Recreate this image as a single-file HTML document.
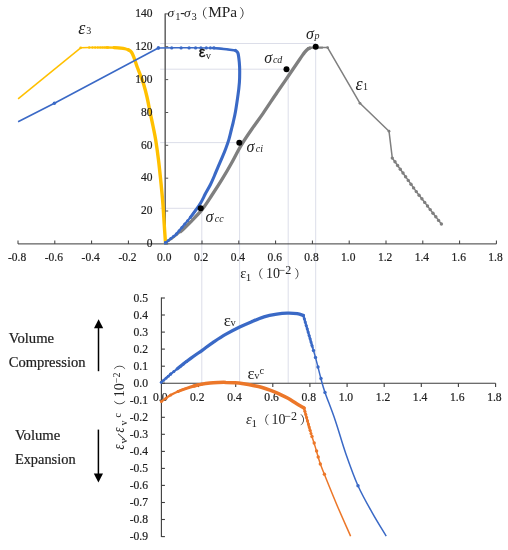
<!DOCTYPE html>
<html lang="en"><head><meta charset="utf-8"><title>Stress-strain curves</title>
<style>html,body{margin:0;padding:0;background:#fff}svg{display:block}text{font-family:"Liberation Serif","Noto Serif CJK SC",serif;fill:#222}</style></head><body>
<svg width="508" height="550" viewBox="0 0 508 550">
<rect width="508" height="550" fill="#fff"/>
<g stroke="#D8DAE6" stroke-width="0.9" fill="none">
<path d="M160.2,43.5H315.7"/>
<path d="M160.2,69.2H288.2"/>
<path d="M160.2,142.6H239.6"/>
<path d="M160.2,208.3H201.8"/>
<path d="M201.8,208.3V383"/>
<path d="M239.6,142.6V383"/>
<path d="M288.2,69.2V383"/>
<path d="M315.7,43.5V383"/>
</g>
<g stroke="#3a3a3a" stroke-width="1" fill="none">
<path d="M18.0,243.9H496.4"/>
<path d="M18.0,243.9v-3.4"/>
<path d="M54.8,243.9v-3.4"/>
<path d="M91.6,243.9v-3.4"/>
<path d="M128.4,243.9v-3.4"/>
<path d="M165.2,243.9v-3.4"/>
<path d="M202.0,243.9v-3.4"/>
<path d="M238.8,243.9v-3.4"/>
<path d="M275.6,243.9v-3.4"/>
<path d="M312.4,243.9v-3.4"/>
<path d="M349.2,243.9v-3.4"/>
<path d="M386.0,243.9v-3.4"/>
<path d="M422.8,243.9v-3.4"/>
<path d="M459.6,243.9v-3.4"/>
<path d="M496.4,243.9v-3.4"/>
</g>
<path d="M165.2,13.4V244.4" stroke="#6b6b6b" stroke-width="1.6" fill="none"/>
<g stroke="#555" stroke-width="1" fill="none">
<path d="M165.2,243.9h3"/>
<path d="M165.2,211.0h3"/>
<path d="M165.2,178.2h3"/>
<path d="M165.2,145.3h3"/>
<path d="M165.2,112.5h3"/>
<path d="M165.2,79.6h3"/>
<path d="M165.2,46.7h3"/>
<path d="M165.2,13.9h3"/>
</g>
<path d="M165.4,243.0C166.5,242.3 169.4,240.7 172.0,238.8C174.6,236.9 177.6,234.4 180.7,231.6C183.8,228.8 186.9,225.7 190.5,222.0" stroke="#7F7F7F" stroke-width="1.8" fill="none" stroke-linecap="round" stroke-linejoin="round"/>
<path d="M180.7,231.6C183.8,228.8 186.9,225.7 190.5,222.0C194.1,218.3 198.4,214.1 202.0,209.6C205.6,205.1 208.6,200.1 212.0,195.0C215.4,189.9 219.1,184.2 222.3,178.9C225.5,173.7 228.2,169.1 231.3,163.5C234.4,157.9 237.6,151.3 241.0,145.6C244.4,139.9 247.9,134.8 251.6,129.5C255.2,124.2 258.6,119.8 262.9,113.6C267.2,107.4 272.9,98.6 277.2,92.3C281.5,86.0 284.9,81.1 288.7,75.5C292.5,69.9 297.5,62.6 300.1,58.7C302.8,54.9 303.4,53.9 304.6,52.4C305.8,50.9 306.3,50.3 307.2,49.6C308.1,48.9 309.4,48.4 309.8,48.1" stroke="#7F7F7F" stroke-width="3.3" fill="none" stroke-linecap="round" stroke-linejoin="round"/>
<path d="M308,48.3L312,47.6H322" stroke="#7F7F7F" stroke-width="2.4" fill="none" stroke-linecap="round"/>
<polyline points="322.0,47.5 327.6,47.6 360.0,103.3 389.0,131.2 392.3,158.1" stroke="#7F7F7F" stroke-width="1.5" fill="none" stroke-linejoin="round"/>
<circle cx="327.6" cy="47.6" r="1.4" fill="#7F7F7F"/><circle cx="360.0" cy="103.3" r="1.4" fill="#7F7F7F"/><circle cx="389.0" cy="131.2" r="1.4" fill="#7F7F7F"/>
<polyline points="392.3,158.1 395.0,161.8 397.6,165.5 400.3,169.3 403.0,173.0 405.6,176.7 408.3,180.4 411.0,184.2 413.6,187.9 416.3,191.6 419.1,195.2 421.9,198.8 424.7,202.4 427.5,206.0 430.2,209.6 433.0,213.2 435.8,216.8 438.6,220.4 441.4,224.0" stroke="#7F7F7F" stroke-width="1.5" fill="none"/>
<circle cx="392.3" cy="158.1" r="1.7" fill="#7F7F7F"/><circle cx="395.0" cy="161.8" r="1.7" fill="#7F7F7F"/><circle cx="397.6" cy="165.5" r="1.7" fill="#7F7F7F"/><circle cx="400.3" cy="169.3" r="1.7" fill="#7F7F7F"/><circle cx="403.0" cy="173.0" r="1.7" fill="#7F7F7F"/><circle cx="405.6" cy="176.7" r="1.7" fill="#7F7F7F"/><circle cx="408.3" cy="180.4" r="1.7" fill="#7F7F7F"/><circle cx="411.0" cy="184.2" r="1.7" fill="#7F7F7F"/><circle cx="413.6" cy="187.9" r="1.7" fill="#7F7F7F"/><circle cx="416.3" cy="191.6" r="1.7" fill="#7F7F7F"/><circle cx="419.1" cy="195.2" r="1.7" fill="#7F7F7F"/><circle cx="421.9" cy="198.8" r="1.7" fill="#7F7F7F"/><circle cx="424.7" cy="202.4" r="1.7" fill="#7F7F7F"/><circle cx="427.5" cy="206.0" r="1.7" fill="#7F7F7F"/><circle cx="430.2" cy="209.6" r="1.7" fill="#7F7F7F"/><circle cx="433.0" cy="213.2" r="1.7" fill="#7F7F7F"/><circle cx="435.8" cy="216.8" r="1.7" fill="#7F7F7F"/><circle cx="438.6" cy="220.4" r="1.7" fill="#7F7F7F"/><circle cx="441.4" cy="224.0" r="1.7" fill="#7F7F7F"/>
<polyline points="18.1,98.8 80.7,47.8" stroke="#FFC000" stroke-width="1.5" fill="none"/>
<path d="M80.7,47.8L89.3,47.5H108" stroke="#FFC000" stroke-width="1.5" fill="none"/>
<circle cx="80.7" cy="47.8" r="1.35" fill="#FFC000"/><circle cx="89.3" cy="47.5" r="1.35" fill="#FFC000"/><circle cx="92.5" cy="47.5" r="1.35" fill="#FFC000"/><circle cx="95.2" cy="47.5" r="1.35" fill="#FFC000"/><circle cx="97.8" cy="47.5" r="1.35" fill="#FFC000"/><circle cx="100.2" cy="47.5" r="1.35" fill="#FFC000"/><circle cx="102.3" cy="47.5" r="1.35" fill="#FFC000"/><circle cx="104.3" cy="47.5" r="1.35" fill="#FFC000"/><circle cx="106.1" cy="47.5" r="1.35" fill="#FFC000"/><circle cx="107.8" cy="47.5" r="1.35" fill="#FFC000"/>
<path d="M107.0,47.5C108.2,47.5 111.7,47.5 114.0,47.6C116.3,47.7 119.2,47.9 121.0,48.1" stroke="#FFC000" stroke-width="2.3" fill="none" stroke-linecap="round"/>
<path d="M114.0,47.6C116.3,47.7 119.2,47.9 121.0,48.1C122.8,48.3 123.8,48.5 125.0,48.8C126.2,49.1 127.9,49.7 128.5,49.9" stroke="#FFC000" stroke-width="3.1" fill="none" stroke-linecap="round"/>
<path d="M128.5,49.9C129.0,50.3 130.7,51.0 131.7,52.4C132.7,53.8 133.4,56.1 134.3,58.5C135.2,60.9 136.1,64.0 137.1,66.8C138.1,69.5 139.2,72.1 140.3,75.0C141.4,77.9 142.5,80.4 143.6,84.1C144.7,87.8 145.9,92.3 147.0,97.0C148.1,101.7 149.1,107.5 150.1,112.3C151.1,117.1 152.1,121.4 153.0,126.0C153.9,130.6 154.8,134.3 155.7,140.0C156.6,145.7 157.6,152.7 158.5,160.0C159.4,167.3 160.3,176.5 161.1,184.0C161.8,191.5 162.5,198.3 163.0,205.0C163.5,211.7 163.8,217.7 164.2,224.0C164.6,230.3 165.3,239.8 165.5,243.0" stroke="#FFC000" stroke-width="3.4" fill="none" stroke-linecap="round"/>
<polyline points="18.1,121.7 54.4,103.2 158.3,48.0" stroke="#3A69C6" stroke-width="1.6" fill="none"/>
<circle cx="54.4" cy="103.2" r="1.7" fill="#3A69C6"/><circle cx="158.3" cy="48.0" r="1.7" fill="#3A69C6"/>
<path d="M158.3,48.0C163.6,48.0 180.6,47.7 190.0,47.7C199.4,47.7 208.9,47.8 215.0,48.0C221.1,48.2 223.0,48.8 226.4,49.2C229.8,49.6 234.0,50.3 235.5,50.5" stroke="#3A69C6" stroke-width="1.4" fill="none"/>
<circle cx="158.5" cy="47.9" r="1.6" fill="#3A69C6"/><circle cx="171.7" cy="47.9" r="1.6" fill="#3A69C6"/><circle cx="181.1" cy="47.9" r="1.6" fill="#3A69C6"/><circle cx="189.1" cy="47.9" r="1.6" fill="#3A69C6"/><circle cx="195.6" cy="47.9" r="1.6" fill="#3A69C6"/><circle cx="200.9" cy="47.9" r="1.6" fill="#3A69C6"/><circle cx="206.3" cy="47.9" r="1.6" fill="#3A69C6"/><circle cx="210.4" cy="47.9" r="1.6" fill="#3A69C6"/><circle cx="214.0" cy="47.9" r="1.6" fill="#3A69C6"/>
<path d="M213,48L226.4,49.2L235.5,50.5" stroke="#3A69C6" stroke-width="2.4" fill="none" stroke-linecap="round" stroke-linejoin="round"/>
<path d="M235.5,50.5C235.9,51.0 237.4,51.2 238.0,53.2C238.6,55.2 239.0,59.3 239.3,62.3C239.6,65.3 239.7,68.1 239.7,71.4C239.7,74.7 239.7,78.4 239.4,82.3C239.1,86.2 238.7,90.2 238.0,95.0C237.3,99.8 236.3,106.9 235.5,111.4C234.7,116.0 233.9,119.2 233.2,122.3C232.5,125.4 232.0,127.2 231.3,130.0C230.6,132.8 229.9,136.1 229.0,139.1C228.1,142.1 227.0,145.2 225.9,148.2C224.8,151.2 223.5,154.3 222.2,157.3C220.9,160.3 219.6,163.4 218.3,166.4C217.0,169.4 215.8,172.5 214.5,175.5C213.2,178.5 212.0,181.5 210.5,184.5C209.0,187.5 207.1,190.6 205.5,193.6C203.9,196.6 202.4,200.0 200.8,202.7C199.2,205.4 197.7,207.4 196.0,209.8C194.3,212.2 192.5,214.8 190.4,217.4" stroke="#3A69C6" stroke-width="3.1" fill="none" stroke-linecap="round"/>
<path d="M196.0,209.8C194.3,212.2 192.5,214.8 190.4,217.4C188.3,220.1 185.7,222.9 183.3,225.7C181.0,228.5 178.4,231.8 176.3,234.0C174.2,236.2 172.3,237.1 170.5,238.6C168.7,240.1 166.4,242.1 165.6,242.8" stroke="#3A69C6" stroke-width="2.2" fill="none" stroke-linecap="round"/>
<circle cx="165.6" cy="242.8" r="1.5" fill="#3A69C6"/><circle cx="168.3" cy="240.6" r="1.5" fill="#3A69C6"/><circle cx="170.9" cy="238.4" r="1.5" fill="#3A69C6"/><circle cx="173.6" cy="236.2" r="1.5" fill="#3A69C6"/><circle cx="176.3" cy="234.0" r="1.5" fill="#3A69C6"/><circle cx="176.3" cy="234.0" r="1.5" fill="#3A69C6"/><circle cx="179.1" cy="230.7" r="1.5" fill="#3A69C6"/><circle cx="181.9" cy="227.4" r="1.5" fill="#3A69C6"/><circle cx="184.8" cy="224.0" r="1.5" fill="#3A69C6"/><circle cx="187.6" cy="220.7" r="1.5" fill="#3A69C6"/><circle cx="190.4" cy="217.4" r="1.5" fill="#3A69C6"/>
<rect x="164" y="241.3" width="3.2" height="3.2" fill="#3A69C6"/>
<circle cx="200.7" cy="208.3" r="3" fill="#000"/>
<circle cx="239.3" cy="142.8" r="3" fill="#000"/>
<circle cx="286.5" cy="69.2" r="3" fill="#000"/>
<circle cx="315.7" cy="46.8" r="3" fill="#000"/>
<g font-size="11.5" text-anchor="middle" fill="#1c1c1c" stroke="#1c1c1c" stroke-width="0.2">
<text x="17.1" y="261.3">-0.8</text>
<text x="53.9" y="261.3">-0.6</text>
<text x="90.7" y="261.3">-0.4</text>
<text x="127.5" y="261.3">-0.2</text>
<text x="164.3" y="261.3">0.0</text>
<text x="201.1" y="261.3">0.2</text>
<text x="237.9" y="261.3">0.4</text>
<text x="274.7" y="261.3">0.6</text>
<text x="311.5" y="261.3">0.8</text>
<text x="348.3" y="261.3">1.0</text>
<text x="385.1" y="261.3">1.2</text>
<text x="421.9" y="261.3">1.4</text>
<text x="458.7" y="261.3">1.6</text>
<text x="495.5" y="261.3">1.8</text>
</g>
<g font-size="11.5" text-anchor="end" fill="#1c1c1c" stroke="#1c1c1c" stroke-width="0.2">
<text x="152.6" y="247.1">0</text>
<text x="152.6" y="214.2">20</text>
<text x="152.6" y="181.4">40</text>
<text x="152.6" y="148.5">60</text>
<text x="152.6" y="115.7">80</text>
<text x="152.6" y="82.8">100</text>
<text x="152.6" y="49.9">120</text>
<text x="152.6" y="17.1">140</text>
</g>
<text y="17.3" font-size="14"><tspan x="167.5" font-style="italic" font-size="13.5">σ</tspan><tspan x="175.2" dy="3" font-size="10.5">1</tspan><tspan x="180.3" dy="-3">-</tspan><tspan x="184" font-style="italic" font-size="13.5">σ</tspan><tspan x="191.6" dy="3" font-size="10.5">3</tspan><tspan x="194.4" dy="-2" font-size="13">（</tspan><tspan x="208.2" dy="-1" textLength="29" lengthAdjust="spacingAndGlyphs">MPa</tspan><tspan x="239" dy="1" font-size="13">）</tspan></text>
<text y="33.6"><tspan x="78.3" font-style="italic" font-size="18">ε</tspan><tspan x="86.3" font-size="10">3</tspan></text>
<text y="57.4"><tspan x="198.7" font-family="Liberation Sans, sans-serif" font-size="15" fill="#111" stroke="#111" stroke-width="0.35">ε</tspan><tspan x="205.8" font-size="10.5" dy="1.2">v</tspan></text>
<text y="63.1"><tspan x="264.2" font-size="16" font-style="italic">σ</tspan><tspan x="272.9" font-size="10" font-style="italic">cd</tspan></text>
<text y="39.2"><tspan x="305.9" font-size="16" font-style="italic">σ</tspan><tspan x="314.6" font-size="10" font-style="italic">p</tspan></text>
<text y="89.8"><tspan x="355.4" font-style="italic" font-size="18">ε</tspan><tspan x="363" font-size="10">1</tspan></text>
<text y="151.8"><tspan x="246.4" font-size="16" font-style="italic">σ</tspan><tspan x="255.7" font-size="10" font-style="italic">ci</tspan></text>
<text y="221.8"><tspan x="205.5" font-size="16" font-style="italic">σ</tspan><tspan x="214.8" font-size="10" font-style="italic">cc</tspan></text>
<text y="277.8" font-size="13.5"><tspan x="240.3" font-size="14.5">ε</tspan><tspan x="245.8" dy="3.2" font-size="11">1</tspan><tspan x="251.6" dy="-2.4" font-size="12">（</tspan><tspan x="265.9" dy="-0.8" font-size="14">10</tspan><tspan x="278.6" dy="-3.4" font-size="12">−2</tspan><tspan dy="4.2" x="294.2" font-size="12">）</tspan></text>
<g stroke="#3c3c3c" stroke-width="1.1" fill="none">
<path d="M161.4,297.5V537.1"/>
<path d="M161.4,298.0h3.5"/>
<path d="M161.4,315.0h3.5"/>
<path d="M161.4,332.1h3.5"/>
<path d="M161.4,349.1h3.5"/>
<path d="M161.4,366.2h3.5"/>
<path d="M161.4,383.2h3.5"/>
<path d="M161.4,400.2h3.5"/>
<path d="M161.4,417.3h3.5"/>
<path d="M161.4,434.3h3.5"/>
<path d="M161.4,451.4h3.5"/>
<path d="M161.4,468.4h3.5"/>
<path d="M161.4,485.4h3.5"/>
<path d="M161.4,502.5h3.5"/>
<path d="M161.4,519.5h3.5"/>
<path d="M161.4,536.6h3.5"/>
<path d="M161.4,383.2H495.6"/>
<path d="M198.5,383.2v3.9"/>
<path d="M235.7,383.2v3.9"/>
<path d="M272.8,383.2v3.9"/>
<path d="M309.9,383.2v3.9"/>
<path d="M347.1,383.2v3.9"/>
<path d="M384.2,383.2v3.9"/>
<path d="M421.3,383.2v3.9"/>
<path d="M458.4,383.2v3.9"/>
<path d="M495.6,383.2v3.9"/>
</g>
<g font-size="11.6" text-anchor="middle" fill="#1c1c1c" stroke="#1c1c1c" stroke-width="0.2">
<text x="160.2" y="400.6">0.0</text>
<text x="197.3" y="400.6">0.2</text>
<text x="234.5" y="400.6">0.4</text>
<text x="271.6" y="400.6">0.6</text>
<text x="308.7" y="400.6">0.8</text>
<text x="345.9" y="400.6">1.0</text>
<text x="383.0" y="400.6">1.2</text>
<text x="420.1" y="400.6">1.4</text>
<text x="457.2" y="400.6">1.6</text>
<text x="494.4" y="400.6">1.8</text>
</g>
<g font-size="11.6" text-anchor="end" fill="#1c1c1c" stroke="#1c1c1c" stroke-width="0.2">
<text x="148" y="301.7">0.5</text>
<text x="148" y="318.7">0.4</text>
<text x="148" y="335.8">0.3</text>
<text x="148" y="352.8">0.2</text>
<text x="148" y="369.9">0.1</text>
<text x="148" y="386.9">0.0</text>
<text x="148" y="403.9">-0.1</text>
<text x="148" y="421.0">-0.2</text>
<text x="148" y="438.0">-0.3</text>
<text x="148" y="455.1">-0.4</text>
<text x="148" y="472.1">-0.5</text>
<text x="148" y="489.1">-0.6</text>
<text x="148" y="506.2">-0.7</text>
<text x="148" y="523.2">-0.8</text>
<text x="148" y="540.3">-0.9</text>
</g>
<path d="M161.4,401.6C162.2,401.0 164.4,399.3 166.0,398.2C167.6,397.1 168.7,396.1 170.7,395.0C172.7,393.9 175.4,392.6 178.0,391.5C180.6,390.4 183.8,389.2 186.5,388.3" stroke="#EC7729" stroke-width="2.2" fill="none" stroke-linecap="round"/>
<circle cx="161.4" cy="401.6" r="1.5" fill="#EC7729"/><circle cx="166.0" cy="398.2" r="1.5" fill="#EC7729"/><circle cx="170.7" cy="395.0" r="1.5" fill="#EC7729"/><circle cx="178.0" cy="391.5" r="1.5" fill="#EC7729"/>
<path d="M178.0,391.5C180.6,390.4 183.8,389.2 186.5,388.3C189.2,387.4 191.4,386.7 194.0,386.0C196.6,385.3 199.5,384.6 202.2,384.1" stroke="#EC7729" stroke-width="2.9" fill="none" stroke-linecap="round"/>
<path d="M194.0,386.0C196.6,385.3 199.5,384.6 202.2,384.1C204.9,383.6 207.4,383.3 210.0,383.0C212.6,382.7 215.3,382.6 218.0,382.5C220.7,382.4 223.2,382.3 226.0,382.4C228.8,382.4 232.1,382.6 235.0,382.8C237.9,383.0 240.8,383.4 243.6,383.8C246.4,384.2 249.1,384.6 252.0,385.2C254.9,385.8 258.3,386.4 261.3,387.2C264.3,388.0 267.1,389.0 270.0,390.1C272.9,391.2 276.0,392.4 279.0,393.8C282.0,395.2 285.1,396.7 288.0,398.3C290.9,399.9 294.0,402.1 296.7,403.7C299.4,405.3 302.8,407.3 304.0,408.0" stroke="#EC7729" stroke-width="3.5" fill="none" stroke-linecap="round"/>
<path d="M304.0,408.0C304.8,411.1 307.0,420.0 308.9,426.4C310.8,432.8 313.3,440.5 315.1,446.4C316.9,452.3 318.1,457.2 319.7,461.9C321.2,466.5 321.3,466.6 324.4,474.3C327.5,482.0 333.9,497.9 338.3,508.2C342.7,518.5 348.6,531.5 350.6,536.2" stroke="#EC7729" stroke-width="1.5" fill="none"/>
<path d="M304,408L308.9,426.4L310.5,431.5" stroke="#EC7729" stroke-width="2.3" fill="none" stroke-linecap="round"/>
<circle cx="304.0" cy="408.0" r="1.5" fill="#EC7729"/><circle cx="304.9" cy="411.2" r="1.5" fill="#EC7729"/><circle cx="305.8" cy="414.4" r="1.5" fill="#EC7729"/><circle cx="306.6" cy="417.6" r="1.5" fill="#EC7729"/><circle cx="307.5" cy="420.8" r="1.5" fill="#EC7729"/><circle cx="308.4" cy="423.9" r="1.5" fill="#EC7729"/><circle cx="309.2" cy="427.1" r="1.5" fill="#EC7729"/><circle cx="310.1" cy="430.3" r="1.5" fill="#EC7729"/><circle cx="311.0" cy="433.5" r="1.5" fill="#EC7729"/>
<circle cx="312.0" cy="436.5" r="1.7" fill="#EC7729"/><circle cx="314.2" cy="443.0" r="1.7" fill="#EC7729"/><circle cx="316.6" cy="451.0" r="1.7" fill="#EC7729"/><circle cx="318.2" cy="457.0" r="1.7" fill="#EC7729"/><circle cx="320.3" cy="464.0" r="1.7" fill="#EC7729"/><circle cx="324.4" cy="474.3" r="1.7" fill="#EC7729"/>
<path d="M161.3,382.3C162.1,381.6 164.4,379.4 166.0,378.0C167.6,376.6 168.7,375.7 170.7,374.1C172.7,372.5 175.4,370.3 178.0,368.2C180.6,366.1 183.8,363.5 186.5,361.5" stroke="#3A69C6" stroke-width="2.1" fill="none" stroke-linecap="round"/>
<circle cx="161.3" cy="382.3" r="1.5" fill="#3A69C6"/><circle cx="163.7" cy="380.2" r="1.5" fill="#3A69C6"/><circle cx="166.0" cy="378.2" r="1.5" fill="#3A69C6"/><circle cx="168.3" cy="376.2" r="1.5" fill="#3A69C6"/><circle cx="170.7" cy="374.1" r="1.5" fill="#3A69C6"/><circle cx="170.7" cy="374.1" r="1.5" fill="#3A69C6"/><circle cx="173.9" cy="371.6" r="1.5" fill="#3A69C6"/><circle cx="177.0" cy="369.1" r="1.5" fill="#3A69C6"/><circle cx="180.2" cy="366.5" r="1.5" fill="#3A69C6"/><circle cx="183.3" cy="364.0" r="1.5" fill="#3A69C6"/><circle cx="186.5" cy="361.5" r="1.5" fill="#3A69C6"/>
<path d="M178.0,368.2C180.6,366.1 183.8,363.5 186.5,361.5C189.2,359.5 191.4,357.9 194.0,356.0C196.6,354.1 199.1,352.5 202.2,350.3C205.3,348.1 208.9,345.2 212.8,342.6C216.7,340.0 221.1,337.0 225.6,334.4C230.1,331.8 235.4,329.1 239.7,327.0C244.0,324.9 247.1,323.6 251.2,321.9C255.2,320.2 259.7,318.2 264.0,316.9C268.3,315.6 273.0,314.8 276.8,314.2C280.6,313.6 283.6,313.3 287.0,313.2C290.4,313.1 294.5,313.3 297.2,313.7C299.9,314.1 302.3,315.1 303.3,315.4" stroke="#3A69C6" stroke-width="3.3" fill="none" stroke-linecap="round"/>
<path d="M303.3,315.4L310,338.5L312.6,347.5" stroke="#3A69C6" stroke-width="2.3" fill="none" stroke-linecap="round"/>
<path d="M303.3,315.4C304.4,319.2 308.0,331.7 310.0,338.5C312.0,345.3 313.3,349.5 315.2,356.4C317.1,363.3 319.7,374.0 321.3,380.0C322.9,386.0 322.7,385.7 325.0,392.4C327.3,399.1 331.7,409.9 335.2,420.2C338.7,430.5 342.2,443.3 346.0,454.2C349.8,465.1 353.6,475.9 358.0,485.7C362.4,495.5 367.6,504.5 372.3,512.9C377.0,521.3 383.9,532.3 386.2,536.2" stroke="#3A69C6" stroke-width="1.5" fill="none"/>
<circle cx="303.3" cy="315.4" r="1.5" fill="#3A69C6"/><circle cx="304.3" cy="318.7" r="1.5" fill="#3A69C6"/><circle cx="305.2" cy="322.1" r="1.5" fill="#3A69C6"/><circle cx="306.2" cy="325.4" r="1.5" fill="#3A69C6"/><circle cx="307.2" cy="328.7" r="1.5" fill="#3A69C6"/><circle cx="308.1" cy="332.1" r="1.5" fill="#3A69C6"/><circle cx="309.1" cy="335.4" r="1.5" fill="#3A69C6"/><circle cx="310.1" cy="338.7" r="1.5" fill="#3A69C6"/><circle cx="311.0" cy="342.1" r="1.5" fill="#3A69C6"/><circle cx="312.0" cy="345.4" r="1.5" fill="#3A69C6"/>
<circle cx="313.5" cy="350.5" r="1.7" fill="#3A69C6"/><circle cx="315.5" cy="357.5" r="1.7" fill="#3A69C6"/><circle cx="318.0" cy="367.0" r="1.7" fill="#3A69C6"/><circle cx="321.0" cy="378.5" r="1.7" fill="#3A69C6"/><circle cx="325.0" cy="392.4" r="1.7" fill="#3A69C6"/><circle cx="358.0" cy="485.7" r="1.7" fill="#3A69C6"/>
<text y="325.9"><tspan x="223.7" font-size="17">ε</tspan><tspan x="230.4" font-size="10.5">v</tspan></text>
<text y="378.5"><tspan x="247.5" font-size="17">ε</tspan><tspan x="254.3" font-size="10.5">v</tspan><tspan x="259.6" dy="-4.7" font-size="10.5">c</tspan></text>
<text y="423.8" font-size="13.5"><tspan x="246" font-style="italic" font-size="14.5">ε</tspan><tspan x="251.6" dy="2.8" font-size="11">1</tspan><tspan x="257.4" dy="-2.0" font-size="12">（</tspan><tspan x="271.6" dy="-0.8" font-size="14">10</tspan><tspan x="284.2" dy="-3.4" font-size="12">−2</tspan><tspan dy="4.2" x="299.8" font-size="12">）</tspan></text>
<g transform="translate(124.4,450.6) rotate(-90)" font-size="13.5">
<text transform="translate(1.0,0) scale(0.8,1)" font-style="italic" font-size="16">ε</text>
<text x="7.2" y="2.6" font-size="10">v</text>
<text transform="translate(11.2,0.6) scale(1.7,1)" font-style="italic" font-size="10.5">/</text>
<text transform="translate(18.2,0) scale(0.8,1)" font-style="italic" font-size="16">ε</text>
<text x="25.2" y="2.6" font-size="10">v</text>
<text x="33.2" y="-3.4" font-size="10">c</text>
<text y="0"><tspan x="38.7" dy="0.8" font-size="12">（</tspan><tspan x="53.4" dy="-0.8" font-size="14">10</tspan><tspan x="67.4" dy="-4.7" font-size="10">−2</tspan><tspan dy="5.5" x="80.6" font-size="12">）</tspan></text>
</g>
<g font-size="14" fill="#1c1c1c" stroke="#1c1c1c" stroke-width="0.2">
<text x="8.7" y="342.7" textLength="45.4" lengthAdjust="spacingAndGlyphs">Volume</text><text x="8.7" y="366.6" textLength="76.8" lengthAdjust="spacingAndGlyphs">Compression</text>
<text x="14.9" y="439.9" textLength="45.4" lengthAdjust="spacingAndGlyphs">Volume</text><text x="14.9" y="463.9" textLength="60.7" lengthAdjust="spacingAndGlyphs">Expansion</text>
</g>
<g stroke="#000" stroke-width="1.5" fill="#000"><path d="M98.5,371.2V327" fill="none"/><path d="M98.6,319.3l4.6,8.9h-9.2z" stroke="none"/>
<path d="M98.4,429.6V474" fill="none"/><path d="M98.4,482.4l4.6,-8.9h-9.2z" stroke="none"/></g>
</svg></body></html>
